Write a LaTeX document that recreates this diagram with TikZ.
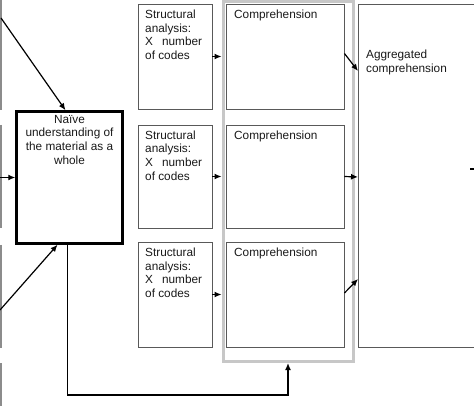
\documentclass[tikz,border=0pt]{standalone}
\usepackage{fontspec}
\setmainfont{Liberation Sans}
\usetikzlibrary{arrows.meta}

\begin{document}
\begin{tikzpicture}
[every node/.style={inner sep=0pt, font=\fontsize{11.8pt}{13.6pt}\selectfont},
 box/.style={rectangle, draw=black!65, line width=0.9pt},
 txt/.style={anchor=north west, align=left, text=black!90},
 >={Latex[length=7pt,width=6pt]}]
\useasboundingbox (0pt,0pt) rectangle (474pt,-406pt);
\clip (0pt,0pt) rectangle (474pt,-406pt);
% cropped boxes on the left edge
\draw [line width=2pt, color=black!45] (1pt,0pt) -- (1pt,-110pt);
\draw [line width=2pt, color=black!45] (1pt,-125pt) -- (1pt,-228pt);
\draw [line width=2pt, color=black!45] (1pt,-245pt) -- (1pt,-348pt);
\draw [line width=2pt, color=black!45] (1pt,-363pt) -- (1pt,-406pt);
\coordinate (in1) at (1pt,-18pt);
\coordinate (in2) at (0pt,-177.5pt);
\coordinate (in3) at (0pt,-310pt);
% naive understanding
\node (nv) [rectangle, draw=black, line width=2.5pt, minimum width=106pt, minimum height=132pt] at (69.5pt,-177.5pt) {};
\node (nvt) [align=center, anchor=north, text=black!90] at (69.5pt,-115pt) {Na\"ive\\understanding of\\the material as a\\whole};
% group of comprehension boxes
\node (grp) [rectangle, draw=black!22, line width=3pt, minimum width=130pt, minimum height=360pt] at (288pt,-181.5pt) {};
% structural analysis
\node (sa1) [box, minimum width=74pt, minimum height=105pt] at (175pt,-56.5pt) {};
\node (sa2) [box, minimum width=74pt, minimum height=103pt] at (175pt,-176.5pt) {};
\node (sa3) [box, minimum width=74pt, minimum height=105pt] at (175pt,-294.5pt) {};
\node (sa1t) [txt] at (145pt,-10pt) {Structural\\analysis:\\X\hspace{9pt}number\\of codes};
\node (sa2t) [txt] at (145pt,-130.5pt) {Structural\\analysis:\\X\hspace{9pt}number\\of codes};
\node (sa3t) [txt] at (145pt,-248pt) {Structural\\analysis:\\X\hspace{9pt}number\\of codes};
% comprehension
\node (cp1) [box, minimum width=118pt, minimum height=105pt] at (285pt,-56.5pt) {};
\node (cp2) [box, minimum width=118pt, minimum height=103pt] at (285pt,-176.5pt) {};
\node (cp3) [box, minimum width=118pt, minimum height=105pt] at (285pt,-294.5pt) {};
\node (cp1t) [txt] at (234pt,-10pt) {Comprehension};
\node (cp2t) [txt] at (234pt,-130.5pt) {Comprehension};
\node (cp3t) [txt] at (234pt,-248pt) {Comprehension};
% aggregated
\node (ag) [box, minimum width=132pt, minimum height=343pt] at (424pt,-175.5pt) {};
\node (agt) [txt] at (366pt,-50pt) {Aggregated\\comprehension};
\coordinate (ag1) at (358pt,-71pt);
\coordinate (ag2) at (358pt,-177pt);
\coordinate (ag3) at (358pt,-279pt);
\coordinate (out1) at (470pt,-169pt);
\coordinate (out2) at (474pt,-169pt);
% arrows
\draw [line width=1.2pt, ->] (in1) to ([xshift=-4pt]nv.north);
\draw [line width=1.2pt, ->] (in2) to (nv.west);
\draw [line width=1.2pt, ->] (in3) to ([xshift=-12pt]nv.south);
\draw [line width=1.2pt, ->] (sa1.east) to (sa1.east -| grp.west);
\draw [line width=1.2pt, ->] (sa2.east) to (sa2.east -| grp.west);
\draw [line width=1.2pt, ->] (sa3.east) to (sa3.east -| grp.west);
\draw [line width=1.2pt, ->] ([yshift=3pt]cp1.east) to (ag1);
\draw [line width=1.2pt, ->] (cp2.east) to (ag2);
\draw [line width=1.2pt, ->] ([yshift=1.5pt]cp3.east) to (ag3);
\draw [line width=1.5pt, ->] ([xshift=-2pt]nv.south) -- ++(0pt,-150pt) -| (grp.south);
\draw [line width=1.5pt] (out1) -- (out2);
\end{tikzpicture}
\end{document}
